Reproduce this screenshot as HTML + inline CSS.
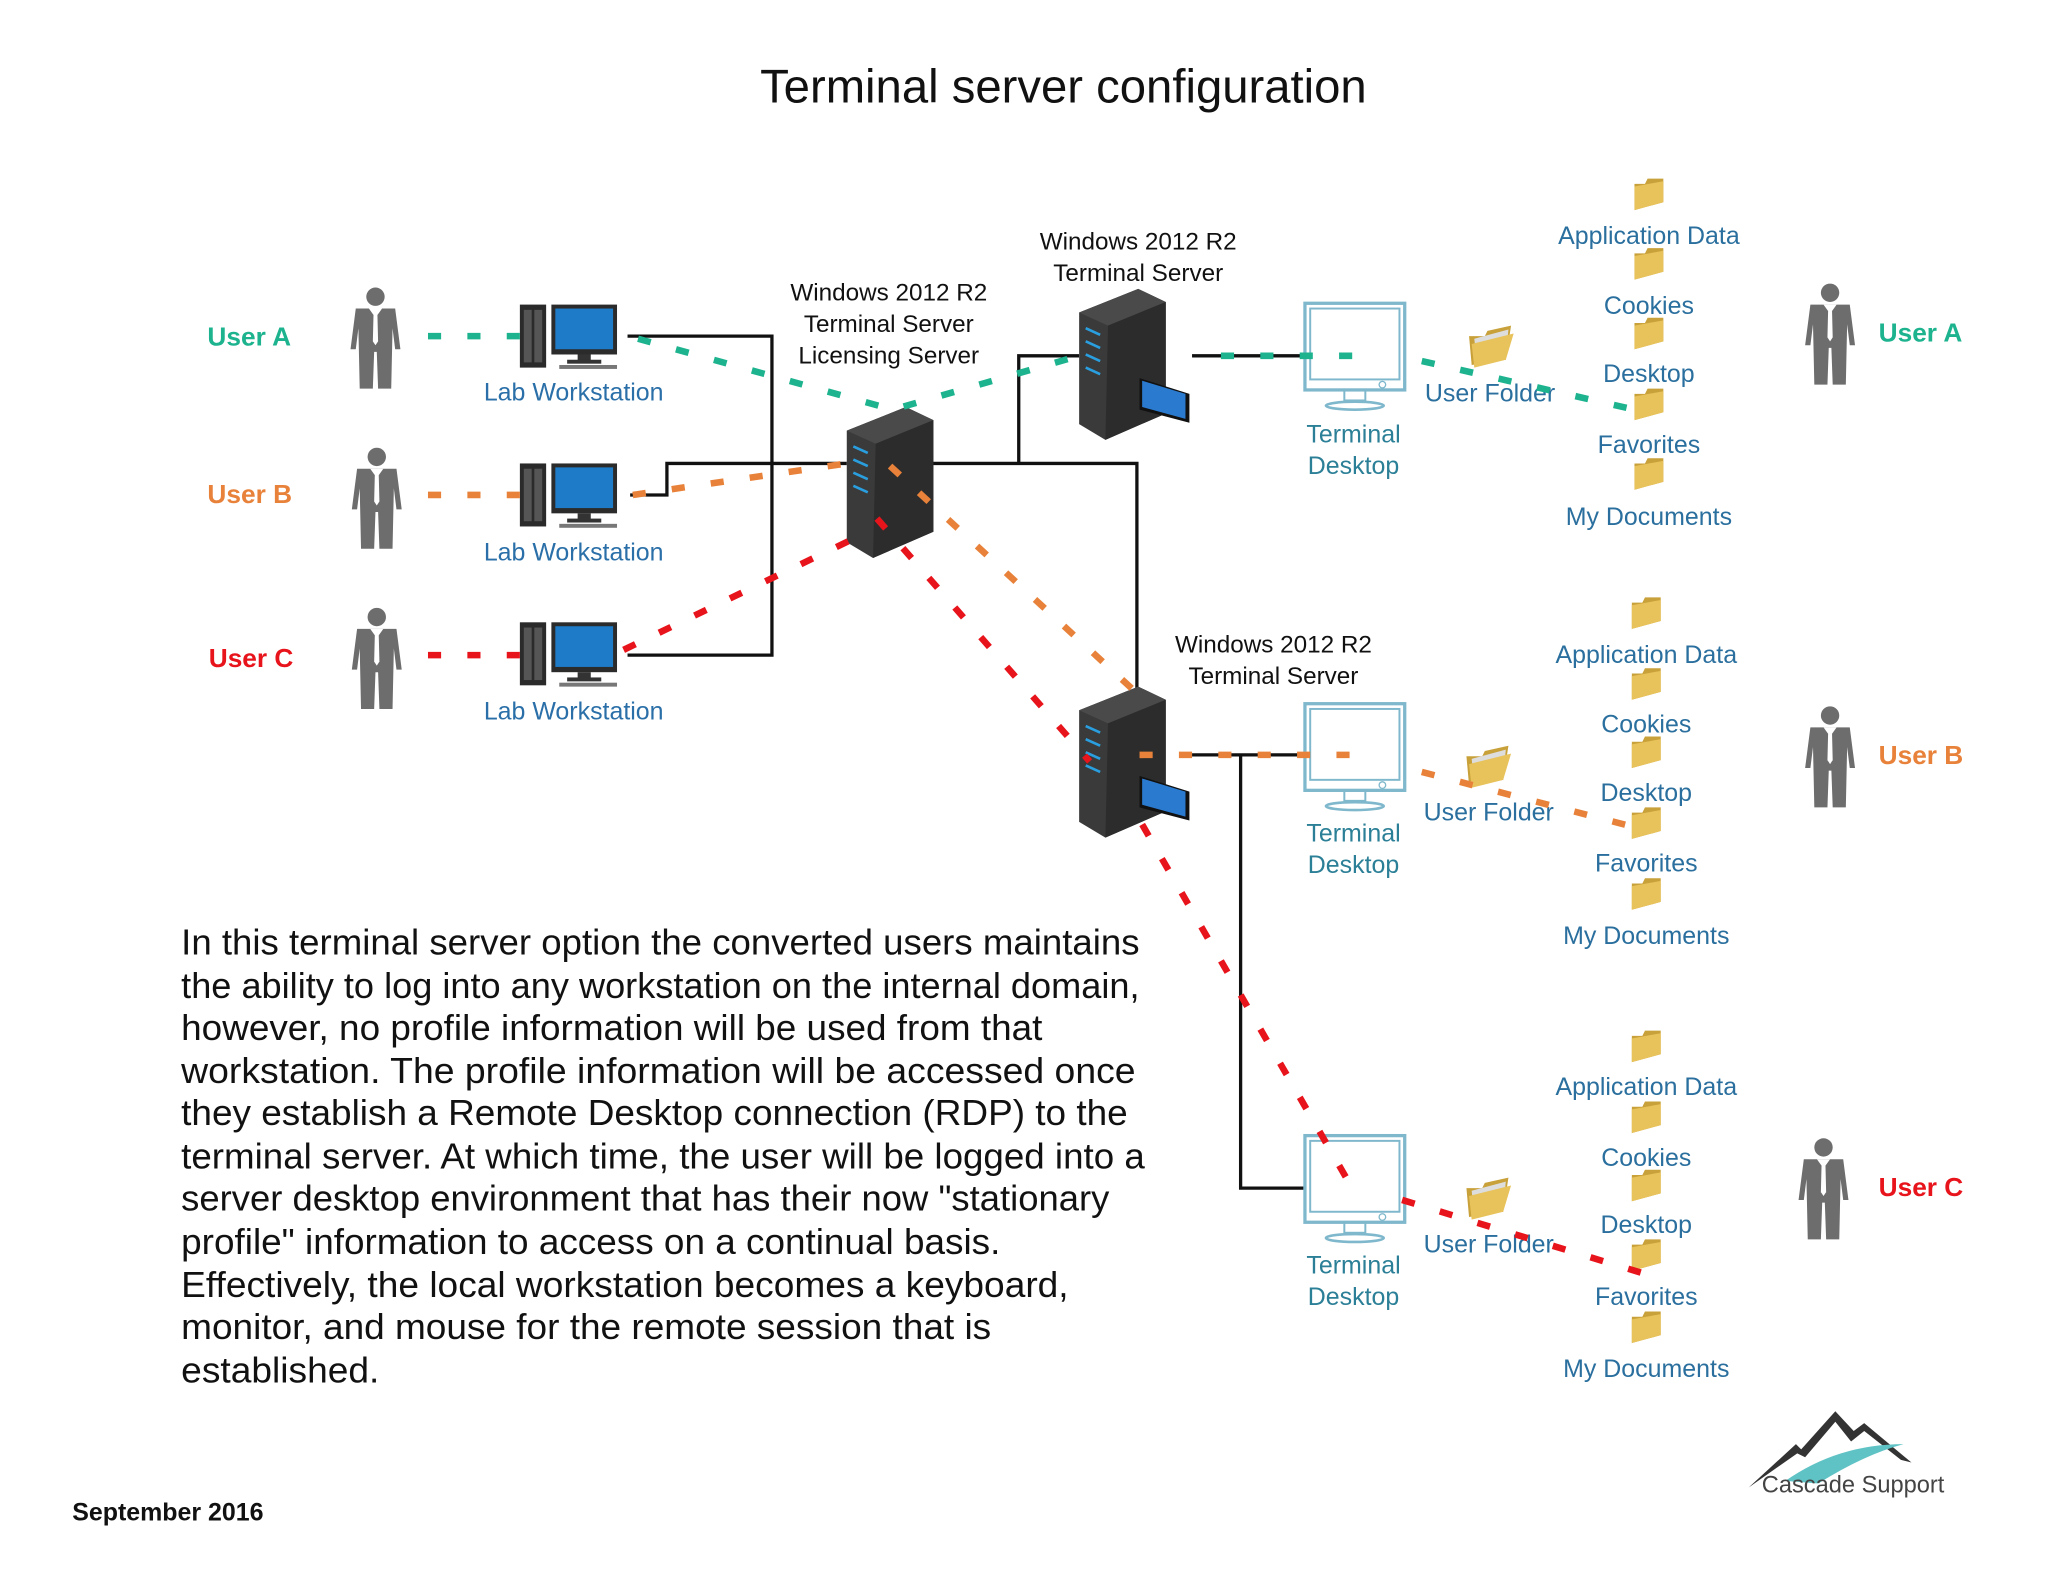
<!DOCTYPE html>
<html><head><meta charset="utf-8"><style>
html,body{margin:0;padding:0;background:#fff;}
svg{display:block;}
text{font-family:"Liberation Sans",Arial,sans-serif;}
</style></head><body>
<svg width="2048" height="1582" viewBox="0 0 1560 1205" xmlns="http://www.w3.org/2000/svg">
<defs>
<g id="person">
<circle cx="0" cy="8" r="7" fill="#6d6d6d"/>
<path d="M-15 17 L15 17 L19 48 L15 48 L13 32 L12 78 L2 78 L1 50 L-1 50 L-2 78 L-12 78 L-13 32 L-15 48 L-19 48 Z" fill="#6d6d6d"/>
<path d="M-5 17 L0 24 L5 17 Z" fill="#fff"/>
<path d="M-1.5 22 L1.5 22 L2 42 L0 45 L-2 42 Z" fill="#fff"/>
</g>
<g id="ws">
<rect x="0" y="0" width="20" height="48" fill="#2a2a2a"/>
<rect x="3" y="4" width="6" height="40" fill="#555"/>
<rect x="11" y="4" width="6" height="40" fill="#555"/>
<rect x="24" y="0" width="50" height="38" fill="#2b2b2b"/>
<rect x="27" y="3" width="44" height="31" fill="#1e7bc8"/>
<rect x="44" y="38" width="10" height="5" fill="#333"/>
<rect x="36" y="42" width="26" height="3" fill="#333"/>
<rect x="30" y="46" width="44" height="3" fill="#777"/>
</g>
<g id="srv">
<path d="M0 18 L45 0 L66 10 L66 95 L20 115 L0 103 Z" fill="#3a3a3a"/>
<path d="M0 18 L45 0 L66 10 L22 28 Z" fill="#4a4a4a"/>
<path d="M22 28 L66 10 L66 95 L20 115 Z" fill="#2c2c2c"/>
<g stroke="#2a9fe0" stroke-width="2"><line x1="5" y1="30" x2="16" y2="35"/><line x1="5" y1="40" x2="16" y2="45"/><line x1="5" y1="50" x2="16" y2="55"/><line x1="5" y1="60" x2="16" y2="65"/></g>
</g>
<g id="mon">
<rect x="0" y="0" width="76" height="66" fill="none" stroke="#7fb8cc" stroke-width="2.5"/>
<rect x="4" y="4" width="68" height="54" fill="none" stroke="#7fb8cc" stroke-width="1.5"/>
<circle cx="59" cy="62" r="2.5" fill="none" stroke="#7fb8cc"/>
<rect x="30" y="66" width="16" height="8" fill="none" stroke="#7fb8cc" stroke-width="1.5"/>
<ellipse cx="38" cy="78" rx="22" ry="3" fill="none" stroke="#7fb8cc" stroke-width="2"/>
</g>
<g id="fold">
<path d="M0 4 L8 4 L10 0 L22 0 L22 18 L0 24 Z" fill="#c9a13a"/>
<path d="M0 6 L22 2 L22 18 L0 24 Z" fill="#e8c25a"/>
</g>
<g id="ufold">
<path d="M2 8 L14 8 L16 4 L34 0 L30 26 L4 30 Z" fill="#c9a13a"/>
<path d="M6 10 L32 3 L30 24 L8 28 Z" fill="#ddd"/>
<path d="M4 14 L36 6 L30 26 L6 32 Z" fill="#e8c25a"/>
</g>
</defs>

<text x="810" y="78" font-size="36" text-anchor="middle" fill="#111">Terminal server configuration</text>

<g font-size="20" font-weight="bold">
<text x="158" y="263" fill="#1db38f">User A</text>
<text x="158" y="383" fill="#e8823a">User B</text>
<text x="159" y="508" fill="#e8141c">User C</text>
<text x="1431" y="260" fill="#1db38f">User A</text>
<text x="1431" y="582" fill="#e8823a">User B</text>
<text x="1431" y="911" fill="#e8141c">User C</text>
</g>

<use href="#person" x="286" y="218"/>
<use href="#person" x="287" y="340"/>
<use href="#person" x="287" y="462"/>
<use href="#person" x="1394" y="215"/>
<use href="#person" x="1394" y="537"/>
<use href="#person" x="1389" y="866"/>

<!-- black lines -->
<g stroke="#111" stroke-width="2.5" fill="none">
<polyline points="478,256 588,256 588,499 478,499"/>
<polyline points="480,377 508,377 508,353 645,353"/>
<polyline points="710,353 866,353 866,530"/>
<polyline points="776,353 776,271 822,271"/>
<line x1="908" y1="271" x2="995" y2="271"/>
<line x1="908" y1="575" x2="995" y2="575"/>
<polyline points="945,575 945,905 995,905"/>
</g>

<use href="#ws" x="396" y="232"/>
<use href="#ws" x="396" y="353"/>
<use href="#ws" x="396" y="474"/>
<g font-size="19" fill="#2a6fa8" text-anchor="middle">
<text x="437" y="305">Lab Workstation</text>
<text x="437" y="427">Lab Workstation</text>
<text x="437" y="548">Lab Workstation</text>
</g>

<use href="#srv" x="645" y="310" transform="translate(0,0)"/>
<use href="#srv" x="822" y="220"/>
<use href="#srv" x="822" y="523"/>
<g>
<path d="M868 288 L906 300 L906 322 L868 312 Z" fill="#111"/><path d="M870 290 L903 300 L903 319 L870 310 Z" fill="#2a7bd0"/>
<path d="M868 591 L906 603 L906 625 L868 615 Z" fill="#111"/><path d="M870 593 L903 603 L903 622 L870 613 Z" fill="#2a7bd0"/>
</g>

<g font-size="18.5" fill="#111" text-anchor="middle">
<text x="677" y="229">Windows 2012 R2</text>
<text x="677" y="253">Terminal Server</text>
<text x="677" y="277">Licensing Server</text>
<text x="867" y="190">Windows 2012 R2</text>
<text x="867" y="214">Terminal Server</text>
<text x="970" y="497">Windows 2012 R2</text>
<text x="970" y="521">Terminal Server</text>
</g>

<use href="#mon" x="994" y="231"/>
<use href="#mon" x="994" y="536"/>
<use href="#mon" x="994" y="865"/>
<g font-size="19" fill="#2b7f96" text-anchor="middle">
<text x="1031" y="337">Terminal</text><text x="1031" y="361">Desktop</text>
<text x="1031" y="641">Terminal</text><text x="1031" y="665">Desktop</text>
<text x="1031" y="970">Terminal</text><text x="1031" y="994">Desktop</text>
</g>

<use href="#ufold" x="1117" y="248"/>
<use href="#ufold" x="1115" y="568"/>
<use href="#ufold" x="1115" y="897"/>

<g font-size="19" fill="#2a6f9e" text-anchor="middle">
<text x="1135" y="306">User Folder</text>
<text x="1134" y="625">User Folder</text>
<text x="1134" y="954">User Folder</text>
<text x="1256" y="186">Application Data</text>
<text x="1256" y="239">Cookies</text>
<text x="1256" y="291">Desktop</text>
<text x="1256" y="345">Favorites</text>
<text x="1256" y="400">My Documents</text>
<text x="1254" y="505">Application Data</text>
<text x="1254" y="558">Cookies</text>
<text x="1254" y="610">Desktop</text>
<text x="1254" y="664">Favorites</text>
<text x="1254" y="719">My Documents</text>
<text x="1254" y="834">Application Data</text>
<text x="1254" y="888">Cookies</text>
<text x="1254" y="939">Desktop</text>
<text x="1254" y="994">Favorites</text>
<text x="1254" y="1049">My Documents</text>
</g>
<use href="#fold" x="1245" y="136"/><use href="#fold" x="1245" y="189"/><use href="#fold" x="1245" y="242"/><use href="#fold" x="1245" y="296"/><use href="#fold" x="1245" y="349"/>
<use href="#fold" x="1243" y="455"/><use href="#fold" x="1243" y="509"/><use href="#fold" x="1243" y="561"/><use href="#fold" x="1243" y="615"/><use href="#fold" x="1243" y="669"/>
<use href="#fold" x="1243" y="785"/><use href="#fold" x="1243" y="839"/><use href="#fold" x="1243" y="891"/><use href="#fold" x="1243" y="944"/><use href="#fold" x="1243" y="999"/>

<!-- dashed connections -->
<g fill="none" stroke-width="5" stroke-dasharray="10 20">
<g stroke="#1db38f">
<line x1="326" y1="256" x2="398" y2="256"/>
<polyline points="486,258 680,312 822,271"/>
<line x1="930" y1="271" x2="1035" y2="271"/>
<polyline points="1083,275 1245,312"/>
</g>
<g stroke="#e8823a">
<line x1="326" y1="377" x2="398" y2="377"/>
<polyline points="482,377 645,353"/>
<polyline points="678,355 866,528"/>
<line x1="868" y1="575" x2="1035" y2="575"/>
<polyline points="1083,588 1245,630"/>
</g>
<g stroke="#e8141c">
<line x1="326" y1="499" x2="398" y2="499"/>
<polyline points="475,495 655,408"/>
<polyline points="668,395 830,580"/>
<polyline points="870,628 1030,905"/>
<polyline points="1068,914 1252,970"/>
</g>
</g>

<g font-size="27.5" fill="#111">
<text x="138" y="727" textLength="730" lengthAdjust="spacingAndGlyphs">In this terminal server option the converted users maintains</text>
<text x="138" y="760" textLength="730" lengthAdjust="spacingAndGlyphs">the ability to log into any workstation on the internal domain,</text>
<text x="138" y="792" textLength="656" lengthAdjust="spacingAndGlyphs">however, no profile information will be used from that</text>
<text x="138" y="825" textLength="727" lengthAdjust="spacingAndGlyphs">workstation.  The profile information will be accessed once</text>
<text x="138" y="857" textLength="721" lengthAdjust="spacingAndGlyphs">they establish a Remote Desktop connection (RDP) to the</text>
<text x="138" y="890" textLength="734" lengthAdjust="spacingAndGlyphs">terminal server. At which time, the user will be logged into a</text>
<text x="138" y="922" textLength="707" lengthAdjust="spacingAndGlyphs">server desktop environment that has their now "stationary</text>
<text x="138" y="955" textLength="624" lengthAdjust="spacingAndGlyphs">profile" information to access on a continual basis.</text>
<text x="138" y="988" textLength="676" lengthAdjust="spacingAndGlyphs">Effectively, the local workstation becomes a keyboard,</text>
<text x="138" y="1020" textLength="617" lengthAdjust="spacingAndGlyphs">monitor, and mouse for the remote session that is</text>
<text x="138" y="1053" textLength="151" lengthAdjust="spacingAndGlyphs">established.</text>
</g>

<text x="55" y="1158" font-size="19" font-weight="bold" fill="#111">September 2016</text>

<!-- logo -->
<path d="M1332 1133 L1368 1100 L1372 1104 L1398 1075 L1412 1090 L1420 1084 L1456 1114 L1448 1112 L1420 1090 L1410 1098 L1398 1083 L1375 1110 L1369 1107 Z" fill="#333"/>
<path d="M1360 1128 Q1400 1100 1450 1100 Q1420 1108 1385 1130 Z" fill="#5fc2c4"/>
<text x="1342" y="1137" font-size="18" fill="#444">Cascade Support</text>
</svg>
</body></html>
